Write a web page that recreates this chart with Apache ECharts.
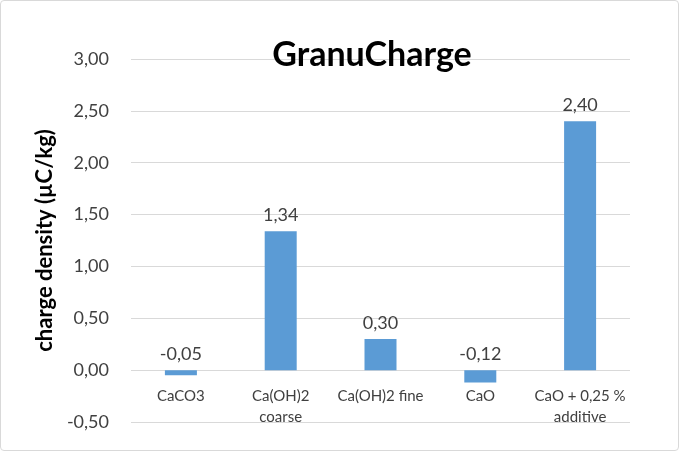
<!DOCTYPE html>
<html>
<head>
<meta charset="utf-8">
<script src="https://cdn.jsdelivr.net/npm/echarts@6/dist/echarts.min.js"></script>
<style>
  html, body { margin: 0; padding: 0; background: #fff; }
  #chart {
    width: 679px;
    height: 451px;
    box-sizing: border-box;
    border: 1px solid #d9d9d9;
    border-radius: 4px;
  }
</style>
</head>
<body>
<div id="chart"></div>
<script>
const categories = ["CaCO3", "Ca(OH)2\ncoarse", "Ca(OH)2 fine", "CaO", "CaO + 0,25 %\nadditive"];
const chargeDensity = [-0.05, 1.34, 0.30, -0.12, 2.40];
const yTicks = { min: -0.5, max: 3.0, interval: 0.5 };

const fmt = (v) => Number(v).toFixed(2).replace(".", ",");
const font = "Lato, 'Open Sans', sans-serif";

const myChart = echarts.init(document.getElementById("chart"));

const option = {
  animation: false,
  title: {
    text: "GranuCharge",
    left: 366,
    textAlign: "center",
    top: 32,
    textStyle: { fontFamily: font, fontSize: 34, fontWeight: "bold", color: "#000" },
  },
  grid: { left: 130, right: 48, top: 58, bottom: 28, outerBoundsMode: "none", containLabel: false },
  xAxis: {
    type: "category",
    data: categories,
    axisLine: { show: false },
    axisTick: { show: false },
    axisLabel: {
      interval: 0,
      // category names sit just under the zero line, as in the original
      margin: -36,
      lineHeight: 21,
      fontFamily: font,
      fontSize: 15,
      color: "#404040",
    },
  },
  yAxis: {
    type: "value",
    min: yTicks.min,
    max: yTicks.max,
    interval: yTicks.interval,
    name: "charge density (µC/kg)",
    nameLocation: "middle",
    nameGap: 72,
    nameTextStyle: { fontFamily: font, fontSize: 22, fontWeight: "bold", color: "#000" },
    axisLine: { show: false },
    axisTick: { show: false },
    splitLine: { lineStyle: { color: "#d9d9d9" } },
    axisLabel: {
      margin: 22,
      fontFamily: font,
      fontSize: 18,
      color: "#404040",
      formatter: fmt,
    },
  },
  series: [
    {
      type: "bar",
      data: chargeDensity,
      barWidth: 32,
      itemStyle: { color: "#5b9bd5" },
      label: {
        show: true,
        position: "top",
        distance: 7,
        fontFamily: font,
        fontSize: 18,
        color: "#404040",
        formatter: (p) => fmt(p.value),
      },
    },
  ],
};
myChart.setOption(option);
</script>
</body>
</html>
